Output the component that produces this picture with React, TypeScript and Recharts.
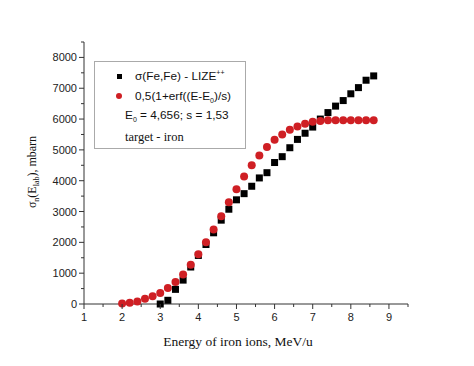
import React from 'react';
import { ScatterChart, Scatter, XAxis, YAxis, Legend } from 'recharts';

// energy grid, MeV/u
const fitEnergy = [2.0, 2.2, 2.4, 2.6, 2.8, 3.0, 3.2, 3.4, 3.6, 3.8, 4.0, 4.2, 4.4, 4.6, 4.8, 5.0, 5.2, 5.4, 5.6, 5.8, 6.0, 6.2, 6.4, 6.6, 6.8, 7.0, 7.2, 7.4, 7.6, 7.8, 8.0, 8.2, 8.4, 8.6];
const fitValues = [20, 40, 85, 170, 250, 355, 520, 710, 960, 1270, 1610, 2000, 2420, 2850, 3300, 3720, 4140, 4500, 4820, 5090, 5330, 5500, 5650, 5760, 5850, 5910, 5940, 5960, 5960, 5960, 5960, 5960, 5960, 5960];

const lizeEnergy = [3.0, 3.2, 3.4, 3.6, 3.8, 4.0, 4.2, 4.4, 4.6, 4.8, 5.0, 5.2, 5.4, 5.6, 5.8, 6.0, 6.2, 6.4, 6.6, 6.8, 7.0, 7.2, 7.4, 7.6, 7.8, 8.0, 8.2, 8.4, 8.6];
const lizeValues = [0, 120, 475, 775, 1200, 1575, 1930, 2310, 2720, 3075, 3380, 3580, 3820, 4090, 4260, 4590, 4780, 5070, 5340, 5540, 5740, 6000, 6210, 6420, 6600, 6820, 7020, 7260, 7400];

const xTicks = [1, 1.5, 2, 2.5, 3, 3.5, 4, 4.5, 5, 5.5, 6, 6.5, 7, 7.5, 8, 8.5, 9, 9.5];
const yTicks = [0, 500, 1000, 1500, 2000, 2500, 3000, 3500, 4000, 4500, 5000, 5500, 6000, 6500, 7000, 7500, 8000, 8500];

const fitData = fitEnergy.map((e, i) => ({ e, v: fitValues[i] }));
const lizeData = lizeEnergy.map((e, i) => ({ e, v: lizeValues[i] }));

const SANS = '"Liberation Sans", Arial, sans-serif';
const SERIF = '"Liberation Serif", "Times New Roman", serif';
const AXIS = '#333';
const RED = '#cf1f24';

const XTick = (props: any) => {
  const { x, y, payload } = props;
  const major = Number.isInteger(payload.value);
  return (
    <g>
      <line x1={x} x2={x} y1={y} y2={y + (major ? 5 : 3)} stroke={AXIS} />
      {major && (
        <text x={x} y={y + 17} textAnchor="middle" fontSize={11} fontFamily={SANS} fill="#222">
          {payload.value}
        </text>
      )}
    </g>
  );
};

const YTick = (props: any) => {
  const { x, y, payload } = props;
  const major = payload.value % 1000 === 0;
  return (
    <g>
      <line x1={x - (major ? 5 : 3)} x2={x} y1={y} y2={y} stroke={AXIS} />
      {major && payload.value <= 8000 && (
        <text x={x - 7} y={y + 4} textAnchor="end" fontSize={11} fontFamily={SANS} fill="#222">
          {payload.value}
        </text>
      )}
    </g>
  );
};

const XLabel = () => (
  <text x={238} y={346} textAnchor="middle" fontSize={13.5} fontFamily={SERIF} fill="#111">
    Energy of iron ions, MeV/u
  </text>
);

const YLabel = () => (
  <text transform="translate(36,172) rotate(-90)" textAnchor="middle" fontSize={12} fontFamily={SERIF} fill="#111">
    σ<tspan fontSize={8} dy={3}>n</tspan>
    <tspan dy={-3}>(E</tspan>
    <tspan fontSize={8} dy={3}>lab</tspan>
    <tspan dy={-3}>), mbarn</tspan>
  </text>
);

const Square = (props: any) => <rect x={props.cx - 3.5} y={props.cy - 3.5} width={7} height={7} fill="#000" />;
const Dot = (props: any) => <circle cx={props.cx} cy={props.cy} r={4} fill={RED} />;

const row: React.CSSProperties = { position: 'absolute', whiteSpace: 'nowrap', lineHeight: '14px' };
const sub: React.CSSProperties = { fontSize: 7, lineHeight: '8px' };

const LegendBox = () => (
  <div style={{ position: 'relative', width: 152, height: 88, border: '1px solid #aaa', background: '#fff', boxSizing: 'border-box', color: '#111' }}>
    <span style={{ position: 'absolute', left: 22, top: 12, width: 5, height: 5, background: '#000' }} />
    <span style={{ ...row, left: 40, top: 7, fontFamily: SANS, fontSize: 11.8 }}>
      σ(Fe,Fe) - LIZE<sup style={{ fontSize: 7, verticalAlign: 'top', lineHeight: '8px' }}>++</sup>
    </span>
    <span style={{ position: 'absolute', left: 21, top: 31, width: 6, height: 6, borderRadius: 3, background: RED }} />
    <span style={{ ...row, left: 40, top: 27, fontFamily: SANS, fontSize: 11.8 }}>
      0,5(1+erf((E-E<sub style={sub}>0</sub>)/s)
    </span>
    <span style={{ ...row, left: 30, top: 46, fontFamily: SANS, fontSize: 11.8 }}>
      E<sub style={sub}>0</sub> = 4,656; s = 1,53
    </span>
    <span style={{ ...row, left: 30, top: 68, fontFamily: SERIF, fontSize: 12.5 }}>target - iron</span>
  </div>
);

export default function App() {
  return (
    <div style={{ position: 'absolute', left: 0, top: 0, width: 474, height: 366, background: '#fff' }}>
      <ScatterChart width={474} height={366} margin={{ top: 42, right: 66, bottom: 0, left: 0 }}>
        <XAxis
          type="number"
          dataKey="e"
          domain={[1, 9.5]}
          ticks={xTicks}
          interval={0}
          height={62}
          tickSize={0}
          tickMargin={0}
          tickLine={false}
          tick={<XTick />}
          axisLine={{ stroke: AXIS }}
          label={<XLabel />}
        />
        <YAxis
          type="number"
          dataKey="v"
          domain={[0, 8500]}
          ticks={yTicks}
          interval={0}
          width={84}
          tickSize={0}
          tickMargin={0}
          tickLine={false}
          tick={<YTick />}
          axisLine={{ stroke: AXIS }}
          label={<YLabel />}
        />
        <Legend
          layout="horizontal"
          verticalAlign="middle"
          content={<LegendBox />}
          wrapperStyle={{ left: 94, top: 61, width: 152, height: 88 }}
        />
        <Scatter name="lize" data={lizeData} shape={<Square />} isAnimationActive={false} />
        <Scatter name="fit" data={fitData} shape={<Dot />} isAnimationActive={false} />
      </ScatterChart>
    </div>
  );
}
